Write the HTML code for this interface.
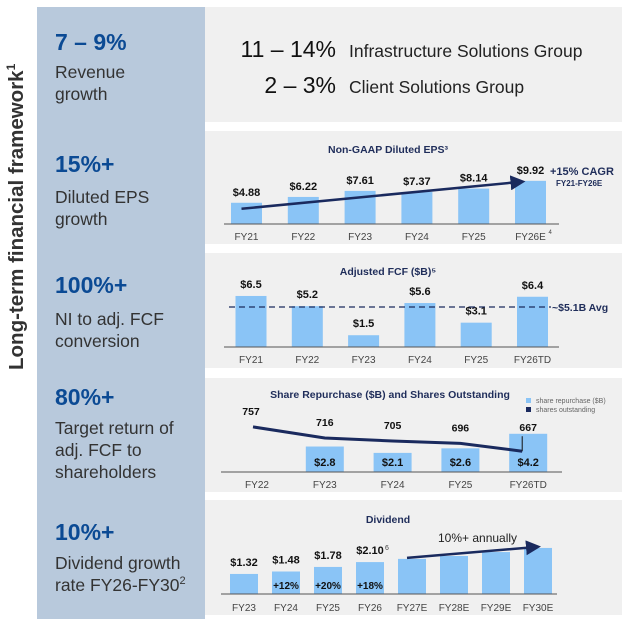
<!DOCTYPE html>
<html><head><meta charset="utf-8">
<style>
html,body{margin:0;padding:0;background:#fff;}
svg{display:block;font-family:"Liberation Sans",Arial,sans-serif;}
.h{font-size:23px;font-weight:bold;fill:#0b4a94;}
.b{font-size:17.5px;fill:#333;}
.ax{font-size:10px;fill:#444;}
.v{font-size:11px;font-weight:bold;fill:#111;}
.t{font-size:10.5px;font-weight:bold;fill:#1f2d5a;}
</style></head><body>
<svg id="root" width="622" height="619" viewBox="0 0 622 619">
<defs><marker id="ah" markerWidth="6" markerHeight="6" refX="4" refY="3" orient="auto"><path d="M0,0 L6,3 L0,6 Z" fill="#1a2a5e"/></marker></defs>
<text transform="translate(23,370) rotate(-90)" font-size="20.5" font-weight="bold" fill="#333">Long-term financial framework<tspan font-size="12" dy="-8">1</tspan></text>
<rect x="37" y="7" width="168" height="612" fill="#b8c9dc"/>
<g>
<text class="h" x="55" y="50">7 – 9%</text><text class="b" x="55" y="78">Revenue</text><text class="b" x="55" y="100">growth</text>
<text class="h" x="55" y="172">15%+</text><text class="b" x="55" y="203">Diluted EPS</text><text class="b" x="55" y="225">growth</text>
<text class="h" x="55" y="293">100%+</text><text class="b" x="55" y="325">NI to adj. FCF</text><text class="b" x="55" y="347">conversion</text>
<text class="h" x="55" y="405">80%+</text><text class="b" x="55" y="434">Target return of</text><text class="b" x="55" y="456">adj. FCF to</text><text class="b" x="55" y="478">shareholders</text>
<text class="h" x="55" y="540">10%+</text><text class="b" x="55" y="569">Dividend growth</text><text class="b" x="55" y="591">rate FY26-FY30<tspan font-size="11" dy="-7">2</tspan></text>
</g>
<rect x="205" y="7" width="417" height="115" fill="#f0f0f0"/>
<text x="336" y="57" text-anchor="end" font-size="23" fill="#111">11 – 14%</text>
<text x="349" y="57" font-size="17.5" fill="#222">Infrastructure Solutions Group</text>
<text x="336" y="93" text-anchor="end" font-size="23" fill="#111">2 – 3%</text>
<text x="349" y="93" font-size="17.5" fill="#222">Client Solutions Group</text>
<rect x="205" y="131" width="417" height="113" fill="#f0f0f0"/>
<rect x="205" y="253" width="417" height="115" fill="#f0f0f0"/>
<rect x="205" y="378" width="417" height="114" fill="#f0f0f0"/>
<rect x="205" y="500" width="417" height="115" fill="#f0f0f0"/>
<g id="charts"></g>
</svg>
<script>
const epsCats=["FY21","FY22","FY23","FY24","FY25","FY26E"];
const epsVals=[4.88,6.22,7.61,7.37,8.14,9.92];
const epsLabels=["$4.88","$6.22","$7.61","$7.37","$8.14","$9.92"];
const fcfCats=["FY21","FY22","FY23","FY24","FY25","FY26TD"];
const fcfVals=[6.5,5.2,1.5,5.6,3.1,6.4];
const fcfLabels=["$6.5","$5.2","$1.5","$5.6","$3.1","$6.4"];
const fcfAvg=5.1;
const shrCats=["FY22","FY23","FY24","FY25","FY26TD"];
const shrBuyback=[0,2.8,2.1,2.6,4.2];
const shrBuybackLabels=["","$2.8","$2.1","$2.6","$4.2"];
const shrOut=[757,716,705,696,667];
const divCats=["FY23","FY24","FY25","FY26","FY27E","FY28E","FY29E","FY30E"];
const divVals=[1.32,1.48,1.78,2.10,2.31,2.50,2.76,3.03];
const divLabels=["$1.32","$1.48","$1.78","$2.10","","","",""];
const divGrowth=["","+12%","+20%","+18%","","","",""];

const NS="http://www.w3.org/2000/svg";
const G=document.getElementById("charts");
function mk(tag,a,txt){const e=document.createElementNS(NS,tag);for(const k in a)e.setAttribute(k,a[k]);if(txt!==undefined)e.textContent=txt;G.appendChild(e);return e;}

// EPS
{const x0=246.5,step=56.8,base=224,sc=4.35,w=31;
const xs=i=>x0+i*step, ys=v=>base-v*sc;
const t=mk("text",{x:388,y:153,"text-anchor":"middle",class:"t"},"Non-GAAP Diluted EPS³");

epsVals.forEach((v,i)=>{
 const r=mk("rect",{x:xs(i)-w/2,y:ys(v),width:w,height:base-ys(v),fill:"#8ac4f6"});
 
 const l=mk("text",{x:xs(i),y:ys(v)-7,"text-anchor":"middle",class:"v"},epsLabels[i]);
 
 const c=mk("text",{x:xs(i),y:240,"text-anchor":"middle",class:"ax"},epsCats[i]);
 
});
const fn=mk("text",{x:xs(5)+18,y:234,"font-size":6,fill:"#444"},"4");

const ax=mk("line",{x1:224,x2:559,y1:base,y2:base,stroke:"#555","stroke-width":1});

const ar=mk("line",{x1:xs(0)-5,y1:ys(epsVals[0])+6,x2:xs(5)-10,y2:ys(epsVals[5])+1,stroke:"#1a2a5e","stroke-width":2.5,"marker-end":"url(#ah)"});

const c1=mk("text",{x:550,y:175,"font-size":11,"font-weight":"bold",fill:"#1f2d5a"},"+15% CAGR");

const c2=mk("text",{x:556,y:186,"font-size":8,"font-weight":"bold",fill:"#1f2d5a"},"FY21-FY26E");

}
// FCF
{const x0=251,step=56.3,base=347,sc=7.85,w=31;
const xs=i=>x0+i*step, ys=v=>base-v*sc;
const t=mk("text",{x:388,y:275,"text-anchor":"middle",class:"t"},"Adjusted FCF ($B)⁵");

fcfVals.forEach((v,i)=>{
 const r=mk("rect",{x:xs(i)-w/2,y:ys(v),width:w,height:base-ys(v),fill:"#8ac4f6"});
 
 const l=mk("text",{x:xs(i),y:ys(v)-8,"text-anchor":"middle",class:"v"},fcfLabels[i]);
 
 const c=mk("text",{x:xs(i),y:363,"text-anchor":"middle",class:"ax"},fcfCats[i]);
 
});
const ax=mk("line",{x1:224,x2:559,y1:base,y2:base,stroke:"#555","stroke-width":1});

const av=mk("line",{x1:229,x2:551,y1:ys(fcfAvg),y2:ys(fcfAvg),stroke:"#1a2a5e","stroke-width":1.2,"stroke-dasharray":"6,4"});

const al=mk("text",{x:552,y:ys(fcfAvg)+4,"font-size":10.5,"font-weight":"bold",fill:"#1f2d5a"},"~$5.1B Avg");

}
// Share repurchase
{const x0=257,step=67.8,base=472,sc=9.1,w=38;
const xs=i=>x0+i*step, ys=v=>base-v*sc, yo=v=>base-(v-590)*0.27;
const t=mk("text",{x:390,y:398,"text-anchor":"middle",class:"t"},"Share Repurchase ($B) and Shares Outstanding");

shrBuyback.forEach((v,i)=>{
 if(v>0){const r=mk("rect",{x:xs(i)-w/2,y:ys(v),width:w,height:base-ys(v),fill:"#8ac4f6"});
 
 const l=mk("text",{x:xs(i),y:base-6,"text-anchor":"middle",class:"v"},shrBuybackLabels[i]);
 }
 const c=mk("text",{x:xs(i),y:488,"text-anchor":"middle",class:"ax"},shrCats[i]);
 
 const o=mk("text",{x:xs(i)-(i==0?6:0),y:yo(shrOut[i])-(i==4?20:12),"text-anchor":"middle","font-size":10.5,"font-weight":"bold",fill:"#111"},String(shrOut[i]));
 
});
const pts=shrOut.map((v,i)=>(xs(i)-(i==0?4:0)+(i==4?-6:0))+","+yo(v)).join(" ");
const pl=mk("polyline",{points:pts,fill:"none",stroke:"#1a2a5e","stroke-width":3});

const ld=mk("line",{x1:xs(4)-6,x2:xs(4)-6,y1:yo(shrOut[4])-15,y2:yo(shrOut[4]),stroke:"#111","stroke-width":1});

const ax=mk("line",{x1:221,x2:562,y1:base,y2:base,stroke:"#555","stroke-width":1});

const s1=mk("rect",{x:526,y:398,width:5,height:5,fill:"#8ac4f6"});
const l1=mk("text",{x:536,y:403,"font-size":7,fill:"#666"},"share repurchase ($B)");
const s2=mk("rect",{x:526,y:407,width:5,height:5,fill:"#1a2a5e"});
const l2=mk("text",{x:536,y:412,"font-size":7,fill:"#666"},"shares outstanding");
}
// Dividend
{const x0=244,step=42,base=594,sc=15.2,w=28;
const xs=i=>x0+i*step, ys=v=>base-v*sc;
const t=mk("text",{x:388,y:523,"text-anchor":"middle",class:"t"},"Dividend");

divVals.forEach((v,i)=>{
 const r=mk("rect",{x:xs(i)-w/2,y:ys(v),width:w,height:base-ys(v),fill:"#8ac4f6"});
 
 if(divLabels[i]){const l=mk("text",{x:xs(i),y:ys(v)-8,"text-anchor":"middle",class:"v"},divLabels[i]);
 }
 if(divGrowth[i]){const g=mk("text",{x:xs(i),y:base-5,"text-anchor":"middle","font-size":10,"font-weight":"bold",fill:"#111"},divGrowth[i]);
 }
 const c=mk("text",{x:xs(i),y:611,"text-anchor":"middle",class:"ax"},divCats[i]);
 
});
const fn=mk("text",{x:385,y:550,"font-size":7,fill:"#444"},"6");
const ax=mk("line",{x1:221,x2:557,y1:base,y2:base,stroke:"#555","stroke-width":1});

const ar=mk("line",{x1:xs(4)-5,y1:ys(divVals[4])-1,x2:xs(7)-2,y2:ys(divVals[7])-1,stroke:"#1a2a5e","stroke-width":2.5,"marker-end":"url(#ah)"});

const an=mk("text",{x:438,y:542,"font-size":12,fill:"#222"},"10%+ annually");

}
</script>
</body></html>
